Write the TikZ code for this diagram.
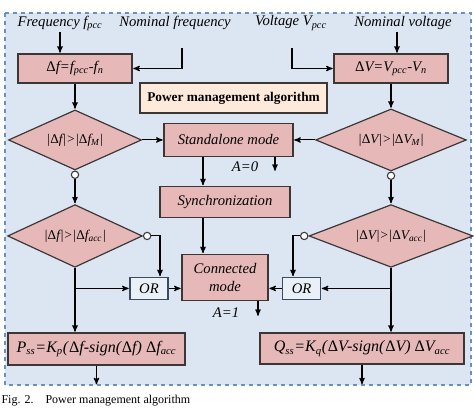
\documentclass[tikz,border=0pt]{standalone}
\usepackage{fontspec}
\setmainfont{Liberation Serif}
\usepackage{tikz}
\usetikzlibrary{arrows,shapes,positioning}

\definecolor{boxred}{HTML}{E6B9B8}
\definecolor{bgblue}{HTML}{DCE6F2}
\definecolor{dashblue}{RGB}{105,145,200}
\definecolor{peach}{HTML}{FDEADA}
\definecolor{orline}{RGB}{60,75,95}
\definecolor{boxline}{RGB}{60,55,55}

\newcommand{\sbs}[1]{\textsubscript{#1}}
\newcommand{\Dl}{\textup{Δ}}

\begin{document}
\begin{tikzpicture}[->,>=stealth',shorten >=0.5pt,thick,x=0.75pt,y=-0.75pt,
    txt/.style={font=\itshape\fontsize{11}{13}\selectfont},
    box/.style={draw=boxline,fill=boxred,line width=0.9pt,inner sep=1pt,txt},
    cond/.style={draw=boxline,fill=boxred,line width=0.9pt,diamond,aspect=2.2,
        inner sep=0pt,font=\itshape\fontsize{10}{12}\selectfont},
    dot/.style={draw=boxline,fill=white,circle,inner sep=0pt,minimum size=5.5pt,line width=0.8pt},
    orbox/.style={draw=orline,fill=bgblue!60!white,line width=0.9pt,minimum width=28.5pt,
        minimum height=16.5pt,inner sep=0pt,txt},
    lbl/.style={inner sep=1pt,txt},
    frame/.style={draw=dashblue,fill=bgblue,dashed,line width=0.9pt}]
        \useasboundingbox (0,0) rectangle (474,409);

        \coordinate (fTL) at (5,13);
        \coordinate (fBR) at (471,385);
        \draw[frame,-] (fTL) rectangle (fBR);

        \node[box,minimum width=85.5pt,minimum height=21.75pt] (df) at (75,68.5)
            {\Dl f=f\sbs{pcc}-f\sbs{n}};

        \node[box,minimum width=85.5pt,minimum height=21.75pt] (dV) [right of=df, node distance=237pt]
            {\Dl V=V\sbs{pcc}-V\sbs{n}};

        \node[lbl] (freq) [above of=df, node distance=34.1pt, xshift=-11.25pt]
            {Frequency f\sbs{pcc}};

        \node[lbl] (nomf) [right of=freq, node distance=86.25pt]
            {Nominal frequency};

        \node[lbl] (volt) [above of=dV, node distance=34.1pt, xshift=-75pt]
            {Voltage V\sbs{pcc}};

        \node[lbl] (nomv) [right of=volt, node distance=84pt]
            {Nominal voltage};

        \node[draw=boxline,fill=peach,line width=0.9pt,minimum width=140.25pt,minimum height=22.5pt,
            font=\bfseries\fontsize{10}{12}\selectfont] (pma) [below of=df, node distance=22.1pt, xshift=118.9pt]
            {Power management algorithm};

        \node[cond,minimum width=99.75pt,minimum height=45pt] (d1) [below of=df, node distance=53.6pt]
            {|\Dl f|>|\Dl f\sbs{M}|};

        \node[cond,minimum width=113pt,minimum height=46.5pt] (d3) [below of=dV, node distance=53.6pt]
            {|\Dl V|>|\Dl V\sbs{M}|};

        \node[box,minimum width=96.75pt,minimum height=24.75pt] (stand) [right of=d1, node distance=115.1pt]
            {Standalone mode};

        \node[box,minimum width=97.5pt,minimum height=23.25pt] (sync) [below of=stand, node distance=46.5pt, xshift=-2.6pt]
            {Synchronization};

        \node[box,minimum width=64.5pt,minimum height=34.5pt,align=center] (conn) [below of=sync, node distance=56.6pt]
            {Connected\\mode};

        \node[cond,minimum width=101pt,minimum height=47pt] (d2) [below of=d1, node distance=72pt]
            {|\Dl f|>|\Dl f\sbs{acc}|};

        \node[cond,minimum width=123pt,minimum height=47pt] (d4) [below of=d3, node distance=72pt]
            {|\Dl V|>|\Dl V\sbs{acc}|};

        \node[dot] (c1) [below=0pt of d1] {};
        \node[dot] (c3) [below=0pt of d3] {};
        \node[dot] (c2) [right=0pt of d2] {};
        \node[dot] (c4) [left=0pt of d4] {};

        \node[orbox] (orL) [left of=conn, node distance=57pt, yshift=-8.25pt]
            {OR};

        \node[orbox] (orR) [right of=conn, node distance=57.4pt, yshift=-8.25pt]
            {OR};

        \node[box,minimum width=132.75pt,minimum height=24pt,font=\itshape\fontsize{12}{14}\selectfont] (pss)
            [below of=d2, node distance=84.75pt, xshift=16.1pt]
            {P\sbs{ss}=K\sbs{p}(\Dl f-sign(\Dl f) \Dl f\sbs{acc}};

        \node[box,minimum width=153pt,minimum height=23.25pt,font=\itshape\fontsize{12}{14}\selectfont] (qss)
            [below of=d4, node distance=84.4pt, xshift=-21.75pt]
            {Q\sbs{ss}=K\sbs{q}(\Dl V-sign(\Dl V) \Dl V\sbs{acc}};

        \node[lbl] (A0) [below of=stand, node distance=19.9pt, xshift=12.4pt]
            {A=0};

        \node[lbl] (A1) [below of=conn, node distance=26.25pt, xshift=0.75pt]
            {A=1};

        \node[anchor=south west,inner sep=0pt,font=\fontsize{9}{11}\selectfont] (cap) at (1,407)
            {Fig. 2.\quad Power management algorithm};

        \node[coordinate] (nf) [below of=nomf, node distance=18.75pt, xshift=5.25pt] {};
        \node[coordinate] (vf) [below of=volt, node distance=18.75pt, xshift=0.75pt] {};
        \node[coordinate] (a0) [below of=stand, node distance=23.6pt, xshift=34.9pt] {};
        \node[coordinate] (a1) [below of=conn, node distance=29.25pt, xshift=24.75pt] {};

        \path
        (d1.east)    edge                node {} (stand.west)
        (d3.west)    edge                node {} (stand.east)
        (c1)         edge                node {} (d2)
        (c3)         edge                node {} (d4)
        ;

        \draw (freq.south) -- (freq.south |- df.north);
        \draw ([xshift=-4.5pt]nomv.south) -- ([xshift=-4.5pt]nomv.south |- dV.north);
        \draw (nf) |- (df.east);
        \draw (vf) |- (dV.west);
        \draw (df) -- (d1);
        \draw (dV) -- (d3);
        \draw ([xshift=-19.1pt]stand.south) -- ([xshift=-19.1pt]stand.south |- sync.north);
        \draw ([xshift=-16.5pt]sync.south) -- ([xshift=-16.5pt]sync.south |- conn.north);
        \draw (a0 |- stand.south) -- (a0);
        \draw (a1 |- conn.south) -- (a1);
        \draw (c2.east) -| ([xshift=8.25pt]orL.north);
        \draw (c4.west) -| ([xshift=-6.4pt]orR.north);
        \draw (d2.south) -- (d2.south |- pss.north);
        \draw (d4.south) -- (d4.south |- qss.north);
        \draw (d2.south |- orL.west) -- (orL.west);
        \draw (d4.south |- orR.east) -- (orR.east);
        \draw (orL.east) -- (orL.east -| conn.west);
        \draw (orR.west) -- (orR.west -| conn.east);
        \draw (pss.south) -- (pss.south |- fBR);
        \draw (qss.south) -- (qss.south |- fBR);
\end{tikzpicture}
\end{document}
